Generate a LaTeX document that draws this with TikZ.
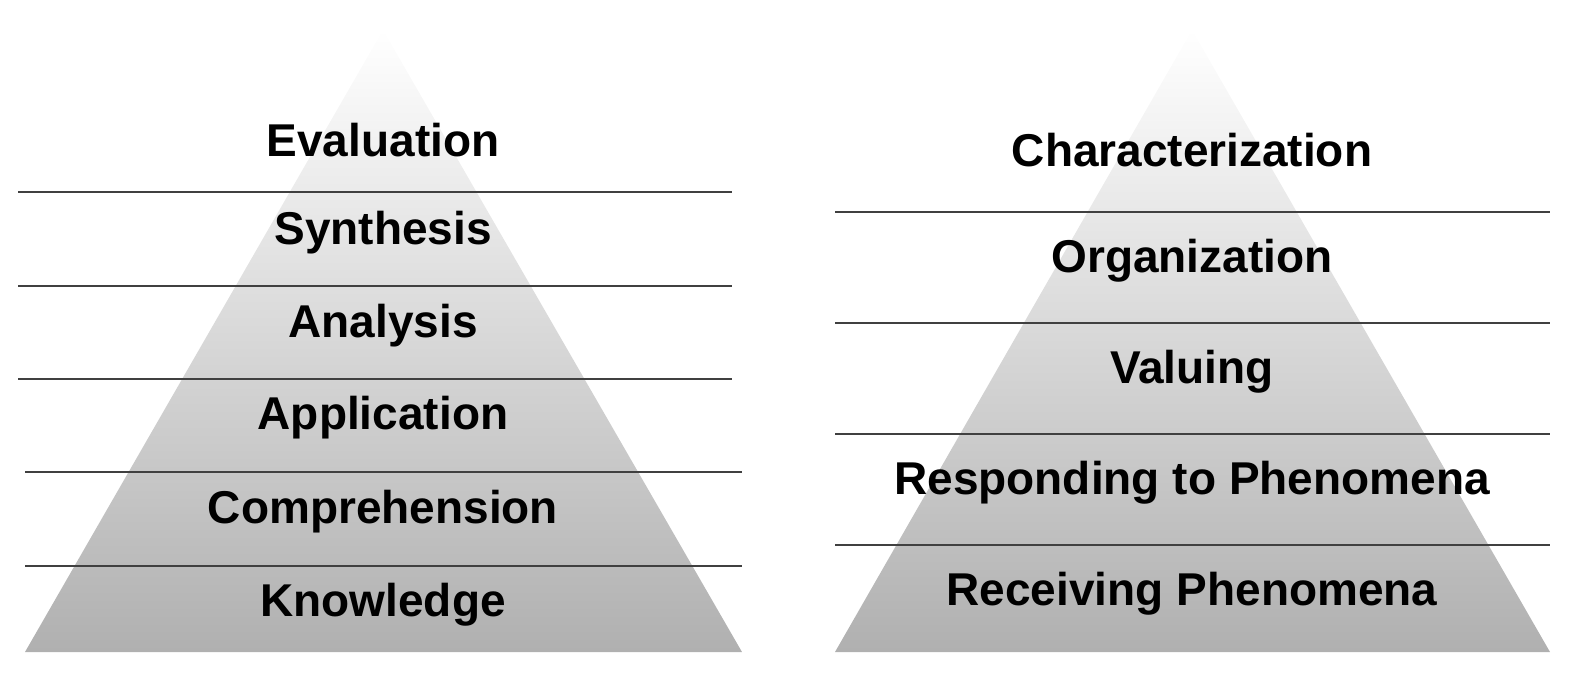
\documentclass[tikz,border=0pt]{standalone}
\usepackage{fontspec}
\setmainfont{Liberation Sans}
\begin{document}
\begin{tikzpicture}[x=0.5pt,y=-0.5pt,
  sep/.style={draw=black!75,line width=0.8pt},
  lab/.style={font=\fontsize{23}{23}\selectfont\bfseries,text=black}]
\shade[top color=white,bottom color=black!31] (383,30) -- (742,652) -- (25,652) -- cycle;
\shade[top color=white,bottom color=black!31] (1192,30) -- (1550,652) -- (835,652) -- cycle;
\foreach \y in {192,286,379} \draw[sep] (18,\y) -- (732,\y);
\foreach \y in {472,566} \draw[sep] (25,\y) -- (742,\y);
\foreach \y in {212,323,434,545} \draw[sep] (835,\y) -- (1550,\y);
\node[lab] (l1) at (383,140) {Evaluation};
\node[lab] (l2) at (383,233) {Synthesis};
\node[lab] (l3) at (383,326) {Analysis};
\node[lab] (l4) at (383,418) {Application};
\node[lab] (l5) at (383,512) {Comprehension};
\node[lab] (l6) at (383,605) {Knowledge};
\node[lab] (r1) at (1192,150) {Characterization};
\node[lab] (r2) at (1192,261) {Organization};
\node[lab] (r3) at (1192,372) {Valuing};
\node[lab] (r4) at (1192,483) {Responding to Phenomena};
\node[lab] (r5) at (1192,594) {Receiving Phenomena};
\pgfresetboundingbox
\useasboundingbox (0,0) rectangle (1596,677);
\end{tikzpicture}
\end{document}
